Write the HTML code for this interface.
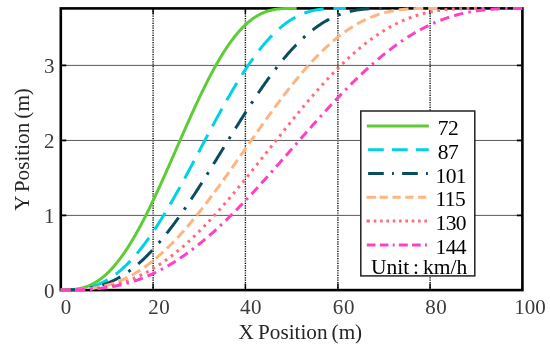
<!DOCTYPE html><html><head><meta charset="utf-8"><style>html,body{margin:0;padding:0;background:#fff;overflow:hidden}svg{display:block}text{font-family:"Liberation Serif",serif;}</style></head><body>
<svg width="550" height="347" viewBox="0 0 550 347">
<rect width="550" height="347" fill="#fff"/>
<line x1="153.10" y1="8.40" x2="153.10" y2="290.10" stroke="#000" stroke-width="1.4" stroke-dasharray="1.2 1.2"/>
<line x1="245.40" y1="8.40" x2="245.40" y2="290.10" stroke="#000" stroke-width="1.4" stroke-dasharray="1.2 1.2"/>
<line x1="337.90" y1="8.40" x2="337.90" y2="290.10" stroke="#000" stroke-width="1.4" stroke-dasharray="1.2 1.2"/>
<line x1="430.10" y1="8.40" x2="430.10" y2="290.10" stroke="#000" stroke-width="1.4" stroke-dasharray="1.2 1.2"/>
<line x1="60.80" y1="65.40" x2="522.40" y2="65.40" stroke="#5a5a5a" stroke-width="1.0"/>
<line x1="60.80" y1="140.45" x2="522.40" y2="140.45" stroke="#5a5a5a" stroke-width="1.0"/>
<line x1="60.80" y1="215.40" x2="522.40" y2="215.40" stroke="#5a5a5a" stroke-width="1.0"/>
<line x1="60.80" y1="290.10" x2="60.80" y2="283.60" stroke="#000" stroke-width="1.4"/>
<line x1="60.80" y1="8.40" x2="60.80" y2="13.90" stroke="#000" stroke-width="1.4"/>
<line x1="153.10" y1="290.10" x2="153.10" y2="283.60" stroke="#000" stroke-width="1.4"/>
<line x1="153.10" y1="8.40" x2="153.10" y2="13.90" stroke="#000" stroke-width="1.4"/>
<line x1="245.40" y1="290.10" x2="245.40" y2="283.60" stroke="#000" stroke-width="1.4"/>
<line x1="245.40" y1="8.40" x2="245.40" y2="13.90" stroke="#000" stroke-width="1.4"/>
<line x1="337.90" y1="290.10" x2="337.90" y2="283.60" stroke="#000" stroke-width="1.4"/>
<line x1="337.90" y1="8.40" x2="337.90" y2="13.90" stroke="#000" stroke-width="1.4"/>
<line x1="430.10" y1="290.10" x2="430.10" y2="283.60" stroke="#000" stroke-width="1.4"/>
<line x1="430.10" y1="8.40" x2="430.10" y2="13.90" stroke="#000" stroke-width="1.4"/>
<line x1="522.40" y1="290.10" x2="522.40" y2="283.60" stroke="#000" stroke-width="1.4"/>
<line x1="522.40" y1="8.40" x2="522.40" y2="13.90" stroke="#000" stroke-width="1.4"/>
<line x1="60.80" y1="290.10" x2="66.30" y2="290.10" stroke="#000" stroke-width="1.8"/>
<line x1="522.40" y1="290.10" x2="516.90" y2="290.10" stroke="#000" stroke-width="1.8"/>
<line x1="60.80" y1="65.40" x2="66.30" y2="65.40" stroke="#000" stroke-width="1.8"/>
<line x1="522.40" y1="65.40" x2="516.90" y2="65.40" stroke="#000" stroke-width="1.8"/>
<line x1="60.80" y1="140.45" x2="66.30" y2="140.45" stroke="#000" stroke-width="1.8"/>
<line x1="522.40" y1="140.45" x2="516.90" y2="140.45" stroke="#000" stroke-width="1.8"/>
<line x1="60.80" y1="215.40" x2="66.30" y2="215.40" stroke="#000" stroke-width="1.8"/>
<line x1="522.40" y1="215.40" x2="516.90" y2="215.40" stroke="#000" stroke-width="1.8"/>
<rect x="60.80" y="8.40" width="461.60" height="281.70" fill="none" stroke="#000" stroke-width="2.6"/>
<path d="M60.80,289.90 61.39,289.90 61.98,289.90 62.57,289.90 63.16,289.90 63.75,289.89 64.34,289.89 64.93,289.88 65.52,289.88 66.11,289.87 66.70,289.85 67.29,289.84 67.88,289.82 68.47,289.80 69.06,289.78 69.65,289.75 70.24,289.72 70.82,289.68 71.41,289.64 72.00,289.60 72.59,289.55 73.18,289.50 73.77,289.44 74.36,289.38 74.95,289.31 75.54,289.24 76.13,289.16 76.72,289.07 77.31,288.98 77.90,288.88 78.49,288.77 79.08,288.66 79.67,288.54 80.26,288.42 80.85,288.29 81.44,288.15 82.03,288.00 82.62,287.85 83.21,287.69 83.80,287.52 84.39,287.34 84.98,287.15 85.57,286.96 86.16,286.76 86.75,286.55 87.34,286.33 87.93,286.10 88.52,285.86 89.11,285.62 89.70,285.36 90.28,285.10 90.87,284.83 91.46,284.55 92.05,284.25 92.64,283.95 93.23,283.64 93.82,283.33 94.41,283.00 95.00,282.66 95.59,282.31 96.18,281.95 96.77,281.58 97.36,281.20 97.95,280.82 98.54,280.42 99.13,280.01 99.72,279.59 100.31,279.16 100.90,278.72 101.49,278.27 102.08,277.81 102.67,277.34 103.26,276.86 103.85,276.37 104.44,275.87 105.03,275.35 105.62,274.83 106.21,274.30 106.80,273.75 107.39,273.20 107.98,272.63 108.57,272.06 109.15,271.47 109.74,270.88 110.33,270.27 110.92,269.65 111.51,269.02 112.10,268.38 112.69,267.73 113.28,267.07 113.87,266.40 114.46,265.72 115.05,265.03 115.64,264.32 116.23,263.61 116.82,262.89 117.41,262.15 118.00,261.41 118.59,260.65 119.18,259.89 119.77,259.11 120.36,258.33 120.95,257.53 121.54,256.73 122.13,255.91 122.72,255.08 123.31,254.25 123.90,253.40 124.49,252.55 125.08,251.68 125.67,250.80 126.26,249.92 126.85,249.02 127.44,248.12 128.03,247.20 128.61,246.28 129.20,245.35 129.79,244.40 130.38,243.45 130.97,242.49 131.56,241.52 132.15,240.54 132.74,239.55 133.33,238.56 133.92,237.55 134.51,236.54 135.10,235.51 135.69,234.48 136.28,233.44 136.87,232.39 137.46,231.33 138.05,230.27 138.64,229.19 139.23,228.11 139.82,227.02 140.41,225.93 141.00,224.82 141.59,223.71 142.18,222.59 142.77,221.46 143.36,220.33 143.95,219.18 144.54,218.03 145.13,216.88 145.72,215.71 146.31,214.54 146.90,213.37 147.49,212.19 148.07,211.00 148.66,209.80 149.25,208.60 149.84,207.39 150.43,206.18 151.02,204.96 151.61,203.73 152.20,202.50 152.79,201.26 153.38,200.02 153.97,198.77 154.56,197.52 155.15,196.26 155.74,195.00 156.33,193.73 156.92,192.46 157.51,191.19 158.10,189.91 158.69,188.62 159.28,187.33 159.87,186.04 160.46,184.74 161.05,183.44 161.64,182.14 162.23,180.83 162.82,179.52 163.41,178.21 164.00,176.89 164.59,175.57 165.18,174.25 165.77,172.92 166.36,171.60 166.94,170.27 167.53,168.94 168.12,167.60 168.71,166.27 169.30,164.93 169.89,163.59 170.48,162.25 171.07,160.91 171.66,159.56 172.25,158.22 172.84,156.87 173.43,155.53 174.02,154.18 174.61,152.83 175.20,151.48 175.79,150.14 176.38,148.79 176.97,147.44 177.56,146.09 178.15,144.75 178.74,143.40 179.33,142.05 179.92,140.71 180.51,139.36 181.10,138.02 181.69,136.67 182.28,135.33 182.87,133.99 183.46,132.66 184.05,131.32 184.64,129.98 185.23,128.65 185.82,127.32 186.40,125.99 186.99,124.67 187.58,123.34 188.17,122.02 188.76,120.70 189.35,119.39 189.94,118.08 190.53,116.77 191.12,115.46 191.71,114.16 192.30,112.87 192.89,111.57 193.48,110.28 194.07,108.99 194.66,107.71 195.25,106.43 195.84,105.16 196.43,103.89 197.02,102.63 197.61,101.37 198.20,100.11 198.79,98.87 199.38,97.62 199.97,96.38 200.56,95.15 201.15,93.92 201.74,92.70 202.33,91.48 202.92,90.27 203.51,89.07 204.10,87.87 204.69,86.68 205.28,85.49 205.86,84.31 206.45,83.14 207.04,81.97 207.63,80.82 208.22,79.66 208.81,78.52 209.40,77.38 209.99,76.25 210.58,75.13 211.17,74.01 211.76,72.90 212.35,71.80 212.94,70.71 213.53,69.63 214.12,68.55 214.71,67.48 215.30,66.42 215.89,65.37 216.48,64.32 217.07,63.29 217.66,62.26 218.25,61.24 218.84,60.23 219.43,59.23 220.02,58.24 220.61,57.26 221.20,56.28 221.79,55.32 222.38,54.36 222.97,53.42 223.56,52.48 224.15,51.55 224.73,50.64 225.32,49.73 225.91,48.83 226.50,47.94 227.09,47.06 227.68,46.19 228.27,45.33 228.86,44.48 229.45,43.64 230.04,42.81 230.63,41.99 231.22,41.18 231.81,40.38 232.40,39.59 232.99,38.81 233.58,38.04 234.17,37.28 234.76,36.53 235.35,35.80 235.94,35.07 236.53,34.35 237.12,33.65 237.71,32.95 238.30,32.26 238.89,31.59 239.48,30.92 240.07,30.27 240.66,29.63 241.25,28.99 241.84,28.37 242.43,27.76 243.02,27.16 243.61,26.57 244.19,25.99 244.78,25.42 245.37,24.86 245.96,24.31 246.55,23.77 247.14,23.25 247.73,22.73 248.32,22.23 248.91,21.73 249.50,21.25 250.09,20.77 250.68,20.31 251.27,19.85 251.86,19.41 252.45,18.98 253.04,18.55 253.63,18.14 254.22,17.74 254.81,17.35 255.40,16.96 255.99,16.59 256.58,16.23 257.17,15.88 257.76,15.53 258.35,15.20 258.94,14.88 259.53,14.57 260.12,14.26 260.71,13.97 261.30,13.68 261.89,13.41 262.48,13.14 263.07,12.88 263.65,12.63 264.24,12.39 264.83,12.16 265.42,11.94 266.01,11.72 266.60,11.52 267.19,11.32 267.78,11.13 268.37,10.95 268.96,10.78 269.55,10.62 270.14,10.46 270.73,10.31 271.32,10.17 271.91,10.03 272.50,9.90 273.09,9.78 273.68,9.67 274.27,9.56 274.86,9.46 275.45,9.37 276.04,9.28 276.63,9.20 277.22,9.12 277.81,9.05 278.40,8.98 278.99,8.92 279.58,8.87 280.17,8.82 280.76,8.77 281.35,8.73 281.94,8.69 282.52,8.66 283.11,8.63 283.70,8.61 284.29,8.59 284.88,8.57 285.47,8.55 286.06,8.54 286.65,8.53 287.24,8.52 287.83,8.51 288.42,8.51 289.01,8.50 289.60,8.50 290.19,8.50 290.78,8.50 291.37,8.50 291.96,8.50 292.55,8.50 293.14,8.50 293.73,8.50 294.32,8.50 294.91,8.50 295.50,8.50 296.09,8.50 296.68,8.50" fill="none" stroke="#5ecc36" stroke-width="3" stroke-linejoin="round"/>
<path d="M60.80,289.90 61.51,289.90 62.23,289.90 62.94,289.90 63.65,289.90 64.36,289.89 65.08,289.89 65.79,289.88 66.50,289.88 67.21,289.87 67.93,289.85 68.64,289.84 69.35,289.82 70.06,289.80 70.78,289.78 71.49,289.75 72.20,289.72 72.91,289.68 73.63,289.64 74.34,289.60 75.05,289.55 75.76,289.50 76.48,289.44 77.19,289.38 77.90,289.31 78.61,289.24 79.33,289.16 79.73,289.11M89.33,287.33 90.01,287.15 90.73,286.96 91.44,286.76 92.15,286.55 92.86,286.33 93.58,286.10 94.29,285.86 95.00,285.62 95.71,285.36 96.43,285.10 97.14,284.83 97.85,284.55 98.56,284.25 99.28,283.95 99.99,283.64 100.70,283.33 101.42,283.00 102.13,282.66 102.84,282.31 103.55,281.95 104.27,281.58 104.98,281.20 105.69,280.82 106.40,280.42 107.12,280.01 107.64,279.70M115.74,274.25 116.38,273.75 117.09,273.20 117.80,272.63 118.52,272.06 119.23,271.47 119.94,270.88 120.65,270.27 121.37,269.65 122.08,269.02 122.79,268.38 123.50,267.73 124.22,267.07 124.93,266.40 125.64,265.72 126.35,265.03 127.07,264.32 127.78,263.61 128.49,262.89 129.20,262.15 129.92,261.41 130.43,260.86M136.91,253.56 137.61,252.72 138.33,251.85 139.04,250.98 139.75,250.10 140.46,249.20 141.18,248.30 141.89,247.39 142.60,246.47 143.31,245.54 144.03,244.59 144.74,243.64 145.45,242.68 146.16,241.72 146.88,240.74 147.59,239.75 148.30,238.76 149.01,237.76M154.52,229.70 155.14,228.76 155.85,227.68 156.57,226.59 157.28,225.48 157.99,224.38 158.70,223.26 159.42,222.14 160.13,221.01 160.84,219.87 161.55,218.72 162.27,217.57 162.98,216.41 163.69,215.25 164.40,214.07 165.12,212.90 165.14,212.86M170.11,204.45 170.82,203.24 171.53,202.00 172.24,200.77 172.95,199.52 173.67,198.27 174.38,197.02 175.09,195.76 175.81,194.49 176.52,193.23 177.23,191.95 177.94,190.67 178.66,189.39 179.37,188.11 179.91,187.13M184.59,178.56 185.21,177.42 185.92,176.10 186.64,174.78 187.35,173.45 188.06,172.13 188.77,170.80 189.49,169.47 190.20,168.14 190.91,166.80 191.62,165.46 192.34,164.12 193.05,162.78 193.76,161.44 193.99,161.02M198.56,152.38 199.18,151.21 199.89,149.87 200.60,148.52 201.31,147.17 202.03,145.82 202.74,144.48 203.45,143.13 204.16,141.78 204.88,140.44 205.59,139.09 206.30,137.75 207.01,136.41 207.73,135.07 207.87,134.80M212.47,126.18 213.14,124.93 213.86,123.61 214.57,122.29 215.28,120.97 215.99,119.65 216.71,118.34 217.42,117.03 218.13,115.73 218.84,114.42 219.56,113.12 220.27,111.83 220.98,110.54 221.69,109.25 222.00,108.70M226.78,100.19 227.39,99.11 228.11,97.87 228.82,96.63 229.53,95.40 230.24,94.17 230.96,92.94 231.67,91.73 232.38,90.51 233.09,89.31 233.81,88.11 234.52,86.92 235.23,85.73 235.94,84.55 236.66,83.37 236.87,83.03M242.03,74.74 242.64,73.79 243.35,72.68 244.07,71.58 244.78,70.49 245.49,69.41 246.20,68.34 246.92,67.27 247.63,66.21 248.34,65.16 249.05,64.12 249.77,63.08 250.48,62.06 251.19,61.04 251.91,60.03 252.62,59.03 253.18,58.26M259.04,50.44 259.74,49.55 260.46,48.65 261.17,47.76 261.88,46.88 262.59,46.02 263.31,45.16 264.02,44.31 264.73,43.47 265.44,42.64 266.16,41.83 266.87,41.02 267.58,40.22 268.29,39.43 269.01,38.66 269.72,37.89 270.43,37.13 271.14,36.39 271.86,35.65 272.08,35.42M279.17,28.70 279.84,28.13 280.55,27.52 281.26,26.92 281.97,26.33 282.69,25.76 283.40,25.19 284.11,24.64 284.82,24.10 285.54,23.56 286.25,23.04 286.96,22.53 287.67,22.03 288.39,21.53 289.10,21.05 289.81,20.58 290.53,20.12 291.24,19.67 291.95,19.24 292.66,18.81 293.38,18.39 294.09,17.98 294.80,17.58 295.40,17.26M304.28,13.22 304.92,12.98 305.63,12.73 306.34,12.49 307.06,12.25 307.77,12.03 308.48,11.81 309.19,11.60 309.91,11.40 310.62,11.21 311.33,11.02 312.04,10.85 312.76,10.68 313.47,10.52 314.18,10.37 314.89,10.22 315.61,10.08 316.32,9.95 317.03,9.83 317.74,9.71 318.46,9.60 319.17,9.50 319.88,9.40 320.59,9.31 321.31,9.23 322.02,9.15 322.73,9.08 323.44,9.01 323.67,8.99M333.42,8.53 334.13,8.52 334.85,8.51 335.56,8.51 336.27,8.51 336.98,8.50 337.70,8.50 338.41,8.50 339.12,8.50 339.83,8.50 340.55,8.50 341.26,8.50 341.97,8.50 342.68,8.50 343.40,8.50 344.11,8.50 344.82,8.50 345.53,8.50 345.82,8.50" fill="none" stroke="#00d2e6" stroke-width="3" stroke-linejoin="round"/>
<path d="M60.92,289.90 61.63,289.90 62.45,289.90 63.28,289.90 64.11,289.90 64.94,289.89 65.76,289.89 66.59,289.88 67.42,289.88 68.24,289.87 69.07,289.85 69.90,289.84 70.73,289.82 71.55,289.80 72.38,289.78 73.21,289.75 74.04,289.72 74.86,289.68 75.69,289.64 76.52,289.60 77.34,289.55 78.17,289.50 79.00,289.44 79.83,289.38 80.65,289.31 80.70,289.30M90.24,288.06 90.91,287.94 91.74,287.78 92.56,287.62 92.99,287.53M102.31,285.05 102.99,284.83 103.81,284.55 104.64,284.25 105.47,283.95 106.30,283.64 107.12,283.33 107.95,283.00 108.78,282.66 109.61,282.31 110.43,281.95 111.26,281.58 112.09,281.20 112.91,280.82 113.74,280.42 114.57,280.01 115.40,279.59 116.22,279.16 117.05,278.72 117.88,278.27 118.70,277.81 119.53,277.34 120.31,276.89M128.38,271.66 129.13,271.12 129.95,270.51 130.64,270.01M138.16,263.96 138.89,263.32 139.72,262.60 140.54,261.86 141.37,261.11 142.20,260.35 143.02,259.58 143.85,258.80 144.68,258.01 145.51,257.21 146.33,256.40 147.16,255.58 147.99,254.75 148.82,253.91 149.64,253.06 150.47,252.20 151.30,251.33 152.12,250.45 152.37,250.19M158.78,243.02 159.57,242.10 160.40,241.13 160.60,240.89M166.70,233.41 167.51,232.39 168.34,231.33 169.16,230.27 169.99,229.19 170.82,228.11 171.65,227.02 172.47,225.93 173.30,224.82 174.13,223.71 174.95,222.59 175.78,221.46 176.61,220.33 177.44,219.18 178.26,218.03 178.59,217.58M184.12,209.71 184.88,208.60 185.70,207.40M191.09,199.39 191.83,198.27 192.66,197.02 193.48,195.76 194.31,194.49 195.14,193.23 195.97,191.95 196.79,190.67 197.62,189.39 198.45,188.11 199.27,186.82 200.10,185.52 200.93,184.22 201.76,182.92 201.85,182.77M206.98,174.63 207.71,173.45 208.46,172.26M213.54,164.06 214.33,162.78 215.16,161.44 215.98,160.10 216.81,158.76 217.64,157.41 218.47,156.06 219.29,154.72 220.12,153.37 220.95,152.02 221.77,150.68 222.60,149.33 223.43,147.98 223.91,147.19M228.95,138.99 229.72,137.75 230.42,136.61M235.50,128.40 236.17,127.32 237.00,125.99 237.82,124.67 238.65,123.34 239.48,122.02 240.30,120.70 241.13,119.39 241.96,118.08 242.79,116.77 243.61,115.46 244.44,114.16 245.27,112.87 246.05,111.65M251.27,103.57 252.05,102.38 252.81,101.23M258.16,93.20 258.83,92.21 259.66,91.00 260.49,89.79 261.32,88.59 262.14,87.39 262.97,86.20 263.80,85.02 264.62,83.84 265.45,82.67 266.28,81.51 267.11,80.35 267.93,79.20 268.76,78.06 269.54,77.00M275.30,69.29 276.04,68.34 276.87,67.27 277.01,67.08M283.05,59.55 283.82,58.64 284.64,57.65 285.47,56.67 286.30,55.71 287.12,54.75 287.95,53.80 288.78,52.86 289.61,51.92 290.43,51.00 291.26,50.09 292.09,49.19 292.92,48.29 293.74,47.41 294.57,46.54 295.40,45.67 296.22,44.82 296.25,44.80M303.13,38.08 303.83,37.43 304.66,36.68 305.20,36.20M312.61,30.01 313.43,29.37 314.26,28.74 315.08,28.13 315.91,27.52 316.74,26.92 317.57,26.33 318.39,25.76 319.22,25.19 320.05,24.64 320.87,24.10 321.70,23.56 322.53,23.04 323.36,22.53 324.18,22.03 325.01,21.53 325.84,21.05 326.67,20.58 327.49,20.12 328.32,19.67 329.15,19.24 329.18,19.22M337.91,15.20 338.58,14.94 339.40,14.63 340.23,14.32 340.53,14.21M349.77,11.45 350.49,11.28 351.32,11.10 352.14,10.92 352.97,10.75 353.80,10.58 354.62,10.43 355.45,10.28 356.28,10.14 357.11,10.01 357.93,9.88 358.76,9.76 359.59,9.65 360.42,9.54 361.24,9.44 362.07,9.35 362.90,9.26 363.72,9.18 364.55,9.10 365.38,9.03 366.21,8.97 367.03,8.91 367.86,8.86 368.69,8.81 369.36,8.77M378.98,8.51 379.77,8.51 380.60,8.51 381.43,8.50 381.78,8.50M391.43,8.50 391.68,8.50" fill="none" stroke="#0a4d60" stroke-width="3" stroke-linejoin="round"/>
<path d="M60.80,289.90 61.74,289.90 62.68,289.90 63.63,289.90 64.57,289.90 65.51,289.89 66.45,289.89 67.39,289.88 68.33,289.88 69.28,289.87 70.22,289.85 70.24,289.85M75.12,289.74 76.06,289.71 77.00,289.68 77.94,289.64 78.88,289.59 79.83,289.54 80.77,289.49 81.71,289.43 82.65,289.36 83.59,289.29 84.54,289.22 85.00,289.18M89.86,288.68 90.75,288.57 91.69,288.44 92.64,288.31 93.58,288.18 94.52,288.03 95.46,287.88 96.40,287.72 97.34,287.55 98.29,287.37 99.23,287.19 99.63,287.11M104.39,286.03 105.26,285.81 106.20,285.57 107.14,285.31 108.08,285.05 109.02,284.77 109.97,284.49 110.91,284.20 111.85,283.89 112.79,283.58 113.73,283.26 113.87,283.21M118.44,281.51 119.38,281.13 120.33,280.74 121.27,280.34 122.21,279.93 123.15,279.50 124.09,279.07 125.04,278.63 125.98,278.18 126.92,277.72 127.47,277.44M131.78,275.17 132.57,274.73 133.51,274.19 134.45,273.64 135.40,273.09 136.34,272.52 137.28,271.94 138.22,271.35 139.16,270.76 140.11,270.15 140.26,270.05M144.29,267.31 145.19,266.67 146.13,265.99 147.08,265.31 148.02,264.61 148.96,263.90 149.90,263.18 150.84,262.45 151.78,261.71 152.21,261.37M155.99,258.28 156.87,257.53 157.81,256.73 158.75,255.91 159.70,255.08 160.64,254.25 161.58,253.40 162.52,252.55 163.41,251.73M166.96,248.38 167.80,247.57 168.74,246.65 169.68,245.72 170.62,244.78 171.56,243.83 172.51,242.88 173.45,241.91 173.96,241.38M177.32,237.84 178.16,236.94 179.10,235.92 180.04,234.89 180.98,233.86 181.92,232.81 182.87,231.76 183.81,230.69 183.97,230.51M187.18,226.83 187.95,225.93 188.89,224.82 189.84,223.71 190.78,222.59 191.72,221.46 192.66,220.33 193.55,219.25M196.63,215.47 197.56,214.31 198.50,213.13 199.44,211.95 200.39,210.76 201.33,209.56 202.27,208.36 202.78,207.71M205.76,203.84 206.60,202.75 207.54,201.51 208.49,200.27 209.43,199.02 210.37,197.77 211.31,196.51 211.73,195.95M214.64,192.03 215.46,190.93 216.40,189.65 217.34,188.36 218.28,187.07 219.22,185.78 220.16,184.48 220.49,184.04M223.34,180.08 224.12,179.00 225.06,177.68 226.00,176.36 226.95,175.04 227.89,173.72 228.83,172.39 229.09,172.02M231.91,168.04 232.79,166.80 233.73,165.46 234.67,164.12 235.61,162.78 236.55,161.44 237.50,160.10 237.61,159.94M240.40,155.95 241.26,154.72 242.20,153.37 243.15,152.02 244.09,150.68 245.03,149.33 245.97,147.98 246.08,147.83M248.87,143.83 249.74,142.59 250.68,141.24 251.62,139.90 252.57,138.55 253.51,137.21 254.45,135.87 254.55,135.72M257.36,131.73 258.22,130.52 259.16,129.18 260.10,127.85 261.04,126.52 261.98,125.20 262.93,123.87 263.08,123.65M265.92,119.68 266.69,118.60 267.64,117.29 268.58,115.99 269.52,114.68 270.46,113.38 271.40,112.09 271.72,111.66M274.60,107.72 275.36,106.69 276.30,105.42 277.24,104.15 278.18,102.88 279.13,101.62 280.07,100.36 280.51,99.78M283.46,95.89 284.21,94.90 285.15,93.68 286.10,92.46 287.04,91.24 287.98,90.03 288.92,88.83 289.52,88.06M292.56,84.24 293.44,83.14 294.38,81.97 295.33,80.82 296.27,79.66 297.21,78.52 298.15,77.38 298.82,76.58M301.97,72.85 302.86,71.80 303.80,70.71 304.74,69.63 305.69,68.55 306.63,67.48 307.57,66.42 308.49,65.40M311.77,61.79 312.66,60.84 313.60,59.83 314.54,58.84 315.48,57.85 316.42,56.87 317.37,55.90 318.31,54.94 318.61,54.63M322.07,51.19 322.83,50.45 323.77,49.55 324.71,48.65 325.65,47.76 326.60,46.88 327.54,46.02 328.48,45.16 329.30,44.42M332.97,41.21 333.75,40.54 334.70,39.75 335.64,38.97 336.58,38.19 337.52,37.43 338.46,36.68 339.41,35.94 340.35,35.21 340.66,34.98M344.58,32.07 345.43,31.45 346.38,30.79 347.32,30.14 348.26,29.50 349.20,28.87 350.14,28.25 351.09,27.64 352.03,27.04 352.80,26.56M356.99,24.06 357.87,23.56 358.81,23.04 359.75,22.53 360.69,22.03 361.63,21.53 362.58,21.05 363.52,20.58 364.46,20.12 365.40,19.67 365.78,19.50M370.24,17.53 371.05,17.19 371.99,16.81 372.94,16.45 373.88,16.09 374.82,15.74 375.76,15.40 376.70,15.07 377.65,14.75 378.59,14.44 379.53,14.14 379.54,14.14M384.23,12.78 384.99,12.58 385.93,12.35 386.88,12.12 387.82,11.90 388.76,11.68 389.70,11.48 390.64,11.28 391.59,11.10 392.53,10.92 393.47,10.75 393.89,10.67M398.72,9.93 399.50,9.83 400.44,9.71 401.38,9.60 402.32,9.50 403.26,9.40 404.21,9.31 405.15,9.23 406.09,9.15 407.03,9.08 407.97,9.01 408.57,8.97M413.44,8.72 414.38,8.68 415.32,8.65 416.26,8.62 417.20,8.60 418.15,8.58 419.09,8.56 420.03,8.55 420.97,8.53 421.91,8.52 422.86,8.52 423.34,8.51M428.22,8.50 429.07,8.50 430.01,8.50 430.96,8.50 431.90,8.50 432.84,8.50 433.78,8.50 434.72,8.50 435.67,8.50 436.61,8.50 437.55,8.50" fill="none" stroke="#fdb581" stroke-width="3" stroke-linejoin="round"/>
<path d="M60.80,289.90 61.86,289.90 62.93,289.90 63.20,289.90M67.78,289.89 68.68,289.88 69.74,289.87 70.58,289.86M75.16,289.79 76.13,289.77 77.20,289.74 77.96,289.72M82.53,289.53 83.59,289.48 84.65,289.42 85.33,289.38M89.90,289.04 90.83,288.96 91.89,288.86 92.69,288.78M97.24,288.26 98.28,288.12 99.34,287.97 100.01,287.87M104.53,287.14 105.52,286.96 106.58,286.76 107.28,286.62M111.76,285.65 112.76,285.41 113.82,285.15 114.48,284.99M118.90,283.78 119.79,283.52 120.85,283.19 121.57,282.97M125.92,281.52 126.81,281.20 127.88,280.82 128.55,280.56M132.81,278.88 133.84,278.45 134.90,278.00 135.39,277.79M139.55,275.88 140.44,275.46 141.51,274.94 142.07,274.66M146.14,272.55 147.04,272.06 148.11,271.47 148.59,271.20M152.56,268.91 153.43,268.38 154.50,267.73 154.95,267.45M158.81,264.99 159.82,264.32 160.88,263.61 161.14,263.44M164.90,260.83 165.78,260.20 166.85,259.43 167.17,259.19M170.84,256.44 171.74,255.75 172.81,254.92 173.05,254.73M176.63,251.87 177.49,251.16 178.56,250.27 178.79,250.08M182.28,247.12 183.24,246.28 184.31,245.35 184.39,245.28M187.80,242.22 188.78,241.33 189.84,240.35 189.86,240.33M193.20,237.19 194.10,236.33 195.17,235.31 195.22,235.26M198.49,232.05 199.43,231.12 200.47,230.07M203.68,226.81 204.54,225.93 205.60,224.82 205.63,224.79M208.78,221.47 209.65,220.55 210.70,219.43M213.80,216.06 214.76,215.01 215.69,213.99M218.75,210.58 219.66,209.56 220.61,208.49M223.63,205.04 224.55,203.98 225.46,202.93M228.44,199.46 229.45,198.27 230.26,197.32M233.21,193.82 234.14,192.72 235.01,191.67M237.93,188.15 238.82,187.07 239.71,185.99M242.62,182.45 243.51,181.35 244.38,180.28M247.27,176.72 248.19,175.57 249.02,174.54M251.89,170.97 252.88,169.73 253.64,168.78M256.50,165.20 257.35,164.12 258.24,163.01M261.08,159.42 262.03,158.22 262.82,157.22M265.66,153.63 266.72,152.29 267.40,151.43M270.24,147.84 271.19,146.63 271.97,145.64M274.81,142.05 275.87,140.71 276.55,139.85M279.40,136.26 280.35,135.07 281.14,134.07M283.99,130.49 285.03,129.18 285.74,128.30M288.60,124.73 289.50,123.61 290.36,122.55M293.24,118.98 294.19,117.82 295.01,116.81M297.90,113.27 298.87,112.09 299.68,111.10M302.61,107.58 303.56,106.43 304.40,105.43M307.35,101.92 308.24,100.87 309.16,99.79M312.14,96.31 313.14,95.15 313.97,94.19M316.98,90.74 318.04,89.55 318.84,88.64M321.89,85.23 322.94,84.08 323.77,83.16M326.87,79.78 327.83,78.75 328.78,77.73M331.93,74.41 332.94,73.35 333.87,72.39M337.07,69.11 338.05,68.12 339.04,67.13M342.31,63.92 343.17,63.08 344.23,62.06 344.32,61.97M347.65,58.82 348.70,57.85 349.71,56.92M353.11,53.86 354.03,53.04 355.09,52.11 355.21,52.01M358.69,49.03 359.56,48.29 360.63,47.41 360.84,47.24M364.40,44.36 365.31,43.64 366.38,42.81 366.61,42.63M370.26,39.87 371.27,39.12 372.34,38.35 372.52,38.22M376.27,35.58 377.24,34.92 378.30,34.21 378.59,34.02M382.44,31.53 383.41,30.92 384.48,30.27 384.82,30.06M388.77,27.74 389.80,27.16 390.86,26.57 391.21,26.38M395.26,24.24 396.19,23.77 397.25,23.25 397.77,23.00M401.92,21.06 402.79,20.68 403.85,20.22 404.49,19.94M408.74,18.23 409.60,17.90 410.67,17.50 411.36,17.25M415.69,15.77 416.63,15.47 417.70,15.14 418.36,14.93M422.77,13.69 423.66,13.46 424.72,13.19 425.49,13.00M429.96,12.00 430.90,11.81 431.96,11.60 432.70,11.46M437.22,10.69 438.14,10.55 439.20,10.40 439.99,10.29M444.53,9.74 445.59,9.62 446.66,9.52 447.32,9.46M451.89,9.10 452.83,9.03 453.90,8.97 454.68,8.93M459.26,8.72 460.28,8.69 461.35,8.66 462.06,8.64M466.63,8.55 467.53,8.54 468.59,8.53 469.43,8.52M474.01,8.50 474.98,8.50 476.04,8.50 476.81,8.50M481.39,8.50 482.43,8.50 483.50,8.50 484.19,8.50" fill="none" stroke="#ff6c7a" stroke-width="3" stroke-linejoin="round"/>
<path d="M60.82,289.90 61.95,289.90 63.11,289.90 64.26,289.90 65.42,289.90 66.57,289.89 67.72,289.89 68.88,289.89 70.03,289.88 70.22,289.88M75.42,289.81 76.49,289.79 77.65,289.77 78.80,289.74 79.96,289.71 81.11,289.68 82.26,289.64 83.42,289.59 84.57,289.54 84.82,289.53M90.01,289.25 91.03,289.18 92.19,289.10 92.50,289.08M97.76,288.62 98.88,288.51 100.04,288.38 101.19,288.25 102.34,288.12 103.50,287.97 104.65,287.82 105.81,287.66 106.96,287.49 107.09,287.47M112.22,286.63 113.19,286.45 114.35,286.24 115.50,286.01 116.65,285.78 117.81,285.53 118.96,285.28 120.12,285.02 121.27,284.75 121.42,284.72M126.46,283.43 127.50,283.14 128.66,282.82 128.87,282.75M133.92,281.21 134.89,280.89 136.04,280.50 137.19,280.10 138.35,279.69 139.50,279.28 140.66,278.85 141.81,278.41 142.77,278.04M147.58,276.08 148.50,275.68 149.66,275.18 150.81,274.66 151.97,274.14 153.12,273.60 154.27,273.06 155.43,272.50 156.12,272.16M160.76,269.80 161.89,269.20 162.96,268.62M167.57,266.04 168.58,265.45 169.74,264.77 170.89,264.08 172.05,263.38 173.20,262.67 174.35,261.95 175.51,261.21 175.60,261.16M179.95,258.31 181.05,257.57 182.20,256.78 183.35,255.98 184.51,255.17 185.66,254.36 186.82,253.53 187.65,252.93M191.83,249.83 192.82,249.08 193.82,248.31M197.98,245.06 199.05,244.20 200.20,243.26 201.36,242.32 202.51,241.37 203.67,240.41 204.82,239.44 205.24,239.09M209.18,235.70 210.13,234.88 211.28,233.86 212.44,232.84 213.59,231.81 214.74,230.77 215.90,229.72 216.20,229.45M220.02,225.92 220.98,225.03 221.84,224.21M225.67,220.57 226.75,219.52 227.90,218.40 229.05,217.27 230.21,216.13 231.36,214.99 232.38,213.98M236.04,210.29 237.13,209.19 238.29,208.01 239.44,206.82 240.59,205.63 241.75,204.44 242.59,203.56M246.18,199.79 247.29,198.62 247.90,197.97M251.50,194.12 252.59,192.94 253.75,191.70 254.90,190.44 256.06,189.19 257.21,187.93 257.87,187.20M261.37,183.36 262.52,182.09 263.67,180.81 264.83,179.53 265.98,178.24 267.14,176.96 267.66,176.37M271.12,172.49 272.21,171.26 272.78,170.62M276.28,166.66 277.29,165.51 278.44,164.20 279.60,162.89 280.75,161.58 281.91,160.27 282.49,159.61M285.91,155.70 286.98,154.47 288.14,153.16 289.29,151.84 290.45,150.52 291.60,149.20 292.11,148.62M295.53,144.71 296.68,143.40 297.18,142.83M300.66,138.86 301.76,137.61 302.91,136.29 304.06,134.98 305.22,133.67 306.37,132.36 306.87,131.80M310.31,127.91 311.45,126.62 312.60,125.33 313.76,124.03 314.91,122.74 316.06,121.44 316.56,120.89M320.04,117.02 321.14,115.80 321.72,115.16M325.27,111.26 326.22,110.22 327.37,108.96 328.53,107.70 329.68,106.45 330.84,105.21 331.64,104.34M335.19,100.55 336.14,99.53 337.30,98.31 338.45,97.10 339.61,95.89 340.76,94.68 341.67,93.74M345.29,90.01 346.30,88.98 347.04,88.22M350.77,84.48 351.84,83.41 352.99,82.27 354.15,81.13 355.30,80.00 356.45,78.88 357.47,77.89M361.24,74.30 362.22,73.37 363.38,72.29 364.53,71.22 365.69,70.15 366.84,69.10 367.99,68.05 368.14,67.92M372.01,64.45 373.07,63.52 373.89,62.81M377.90,59.37 378.84,58.57 380.00,57.61 381.15,56.65 382.30,55.70 383.46,54.76 384.61,53.83 385.16,53.40M389.25,50.19 390.38,49.32 391.54,48.44 392.69,47.58 393.84,46.72 395.00,45.87 396.15,45.04 396.79,44.58M401.05,41.59 402.15,40.83 403.11,40.18M407.53,37.29 408.62,36.60 409.77,35.88 410.92,35.16 412.08,34.46 413.23,33.77 414.39,33.08 415.54,32.41 415.56,32.40M420.09,29.85 421.08,29.32 422.23,28.71 423.39,28.10 424.54,27.51 425.69,26.92 426.85,26.35 428.00,25.79 428.46,25.57M433.18,23.39 434.23,22.92 435.39,22.42 435.47,22.39M440.36,20.39 441.39,19.99 442.54,19.55 443.70,19.12 444.85,18.71 446.01,18.30 447.16,17.90 448.31,17.51 449.20,17.22M454.17,15.69 455.24,15.39 456.39,15.06 457.55,14.75 458.70,14.45 459.85,14.15 461.01,13.87 462.16,13.59 463.27,13.34M468.36,12.26 469.32,12.08 470.47,11.86 470.82,11.80M476.03,10.94 477.16,10.77 478.32,10.61 479.47,10.46 480.63,10.31 481.78,10.17 482.93,10.04 484.09,9.92 485.24,9.80 485.35,9.79M490.53,9.33 491.47,9.26 492.63,9.18 493.78,9.11 494.93,9.04 496.09,8.98 497.24,8.92 498.40,8.87 499.55,8.82 499.92,8.80M505.12,8.64 506.24,8.61 507.40,8.59 507.62,8.59M512.90,8.52 513.86,8.52 515.01,8.51 516.17,8.51 517.32,8.50 518.48,8.50 519.63,8.50 520.78,8.50 521.94,8.50 522.30,8.50" fill="none" stroke="#ff3fc4" stroke-width="3" stroke-linejoin="round"/>
<text x="60.70" y="313.6" font-size="21" fill="#3a3a3a">0</text>
<text x="148.20" y="313.6" font-size="21" letter-spacing="0.6" fill="#3a3a3a">20</text>
<text x="240.00" y="313.6" font-size="21" letter-spacing="0.6" fill="#3a3a3a">40</text>
<text x="332.80" y="313.6" font-size="21" letter-spacing="0.6" fill="#3a3a3a">60</text>
<text x="425.20" y="313.6" font-size="21" letter-spacing="0.6" fill="#3a3a3a">80</text>
<text x="514.20" y="313.6" font-size="21" fill="#3a3a3a">100</text>
<text x="54.5" y="297.60" font-size="21" text-anchor="end" fill="#3a3a3a">0</text>
<text x="54.5" y="222.90" font-size="21" text-anchor="end" fill="#3a3a3a">1</text>
<text x="54.5" y="147.95" font-size="21" text-anchor="end" fill="#3a3a3a">2</text>
<text x="54.5" y="72.90" font-size="21" text-anchor="end" fill="#3a3a3a">3</text>
<text x="300.4" y="339.2" font-size="21.2" text-anchor="middle" word-spacing="-1.2" fill="#262626">X Position (m)</text>
<text transform="translate(29.4,149.45) rotate(-90)" x="0" y="0" font-size="21.2" text-anchor="middle" word-spacing="-1.2" fill="#262626">Y Position (m)</text>
<rect x="360.8" y="111" width="114.00" height="164.90" fill="#fff" stroke="#222" stroke-width="1.5"/>
<path d="M366.8,126.0 428.8,126.0" stroke="#5ecc36" stroke-width="3" fill="none"/>
<text x="437.8" y="135.00" font-size="21.5" letter-spacing="-0.6" fill="#000">72</text>
<path d="M368.10,149.8 383.80,149.8M392.00,149.8 407.70,149.8M415.90,149.8 428.80,149.8" stroke="#00d2e6" stroke-width="3" fill="none"/>
<text x="437.8" y="158.80" font-size="21.5" letter-spacing="-0.6" fill="#000">87</text>
<path d="M368.10,173.5 383.80,173.5M392.00,173.5 393.90,173.5M402.10,173.5 417.80,173.5M426.00,173.5 427.90,173.5" stroke="#0a4d60" stroke-width="3" fill="none"/>
<text x="435.6" y="182.50" font-size="21.5" letter-spacing="-0.7" fill="#000">101</text>
<path d="M366.5,197.2 375.9,197.2M366.80,197.2 375.00,197.2M379.63,197.2 387.83,197.2M392.46,197.2 400.66,197.2M405.29,197.2 413.49,197.2M418.12,197.2 426.32,197.2" stroke="#fdb581" stroke-width="3" fill="none"/>
<text x="435.6" y="206.20" font-size="21.5" letter-spacing="-0.7" fill="#000">115</text>
<path d="M366.5,221.1 368.5,221.1M367.40,221.1 370.00,221.1M373.73,221.1 376.33,221.1M380.06,221.1 382.66,221.1M386.39,221.1 388.99,221.1M392.72,221.1 395.32,221.1M399.05,221.1 401.65,221.1M405.38,221.1 407.98,221.1M411.71,221.1 414.31,221.1M418.04,221.1 420.64,221.1M424.37,221.1 426.97,221.1" stroke="#ff6c7a" stroke-width="3" fill="none"/>
<text x="435.6" y="230.10" font-size="21.5" letter-spacing="-0.7" fill="#000">130</text>
<path d="M366.80,244.9 375.50,244.9M379.80,244.9 388.40,244.9M392.70,244.9 394.60,244.9M398.90,244.9 407.80,244.9M412.10,244.9 420.70,244.9M425.00,244.9 426.90,244.9" stroke="#ff3fc4" stroke-width="3" fill="none"/>
<text x="435.6" y="253.90" font-size="21.5" letter-spacing="-0.7" fill="#000">144</text>
<text x="371" y="273.7" font-size="21.5" word-spacing="-1.5" fill="#000">Unit : km/h</text>
</svg></body></html>
